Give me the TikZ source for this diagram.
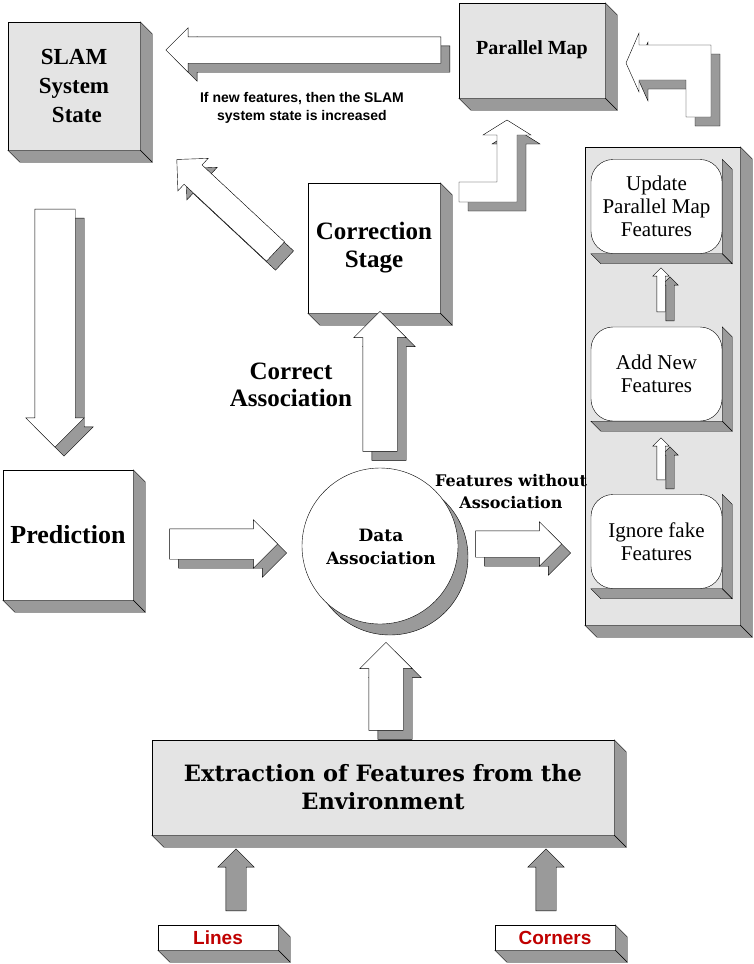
\documentclass[tikz,border=0pt]{standalone}
\usepackage{fontspec}
\setmainfont{Liberation Serif}
\newfontfamily\sansf{Liberation Sans}
\newfontfamily\widef{DejaVu Serif}
\usetikzlibrary{calc,shapes.arrows,shadows}

\definecolor{panelgray}{HTML}{E4E4E4}
\definecolor{sidegray}{HTML}{9A9A9A}
\definecolor{labelred}{HTML}{C00000}

\tikzset{
    front/.style = {draw=black, thin, inner sep=2pt, align=center, font=\bfseries},
    sideface/.style = {draw=black, thin, fill=sidegray},
    blockarrow/.style = {single arrow, draw=black, thin, fill=white, inner xsep=0pt, inner ysep=13pt,
        single arrow head extend=9pt, single arrow head indent=0pt,
        drop shadow={shadow xshift=9pt, shadow yshift=-9pt, fill=sidegray, draw=black, opacity=1}},
    solidarrow/.style = {single arrow, draw=black, thin, fill=sidegray, inner xsep=0pt, inner ysep=10pt,
        single arrow head extend=8pt, single arrow head indent=0pt},
    elbow/.style = {draw=black, thin, fill=white,
        drop shadow={shadow xshift=9pt, shadow yshift=-9pt, fill=sidegray, draw=black, opacity=1}}
}

% extrude the right and bottom faces of a node
\newcommand\extrude[2][12]{
    \filldraw[sideface] (#2.north east) -- ++(#1,#1) -- ($(#2.south east)+(#1,#1)$) -- (#2.south east) -- cycle;
    \filldraw[sideface] (#2.south west) -- (#2.south east) -- ($(#2.south east)+(#1,#1)$) -- ($(#2.south west)+(#1,#1)$) -- cycle;
}

\begin{document}
\begin{tikzpicture}[x=1pt, y=-1pt]
    \useasboundingbox (0,0) rectangle (754,964);

    % boxes
    \node[front, fill=panelgray, minimum width=132, minimum height=128, font=\bfseries\fontsize{23}{29}\selectfont] (slam) at (74,86) {SLAM\\System\\\ State};
    \extrude{slam}
    \node[front, fill=panelgray, minimum width=146, minimum height=95] (pmap) at (532,50.5) {};
    \node[font=\bfseries\fontsize{20}{22}\selectfont] (pmaplbl) at (532,50) {Parallel Map};
    \extrude{pmap}
    \node[front, fill=white, minimum width=132, minimum height=130, font=\bfseries\fontsize{25}{28}\selectfont] (corr) at (374,248) {Correction\\Stage};
    \extrude{corr}
    \node[front, fill=white, minimum width=130, minimum height=130, font=\bfseries\fontsize{26}{28}\selectfont] (pred) at (68,535) {Prediction};
    \extrude{pred}
    \node[front, fill=panelgray, minimum width=462, minimum height=95, font=\widef\bfseries\fontsize{22.5}{28}\selectfont] (extr) at (383,787.5) {Extraction of Features from the\\Environment};
    \extrude{extr}

    % data association
    \fill[sidegray, draw=black, thin] (390,557) circle (78);
    \node[circle, draw=black, thin, fill=white, minimum size=156, inner sep=0pt] (assoc) at (380,546) {};
    \node[align=center, font=\widef\bfseries\fontsize{17}{23}\selectfont] (assoclbl) at (381,547) {Data\\Association};

    % right panel
    \node[front, fill=panelgray, minimum width=155, minimum height=478] (panel) at (662.5,386) {};
    \extrude{panel}
    \foreach \name/\y/\txt in {upd/206.5/{Update\\Parallel Map\\Features}, add/374/{Add New\\Features}, ign/541.5/{Ignore fake\\Features}} {
        \node[draw=black, thin, fill=white, rounded corners=22pt, minimum width=131, minimum height=94,
            align=center, font=\fontsize{21}{23}\selectfont] (\name) at (656.5,\y) {\txt};
        \extrude[10]{\name}
    }

    % small boxes with red labels
    \node[front, fill=white, minimum width=120, minimum height=25, text=labelred, font=\sansf\bfseries\fontsize{19}{20}\selectfont] (lines) at (218,937.5) {Lines};
    \extrude{lines}
    \node[front, fill=white, minimum width=120, minimum height=25, text=labelred, font=\sansf\bfseries\fontsize{19}{20}\selectfont] (corners) at (555,937.5) {Corners};
    \extrude{corners}

    % block arrows
    \node[blockarrow, minimum height=275, rotate=180] (toslam) at (310,50) {};
    \node[blockarrow, minimum height=238, inner ysep=20pt, rotate=-90] (topred) at (55,318) {};
    \node[blockarrow, minimum height=135, rotate=137] (diag) at (231,210) {};
    \node[blockarrow, minimum height=108, inner ysep=15pt] (toassoc) at (216,544) {};
    \node[blockarrow, minimum height=86, inner ysep=13pt] (tofree) at (512,544) {};
    \node[blockarrow, minimum height=140, inner ysep=17pt, rotate=90] (tocorr) at (380,390) {};
    \node[blockarrow, minimum height=88, inner ysep=17pt, rotate=90] (fromextr) at (386,695) {};
    \node[blockarrow, minimum height=44, inner ysep=4pt, single arrow head extend=4pt,
        drop shadow={opacity=0}, rotate=90] (updadd) at (661,292) {};
    \node[blockarrow, minimum height=42, inner ysep=4pt, single arrow head extend=4pt,
        drop shadow={opacity=0}, rotate=90] (addign) at (661,461) {};
    \node[solidarrow, minimum height=62, rotate=90] (fromlines) at (236,885) {};
    \node[solidarrow, minimum height=62, rotate=90] (fromcorners) at (546,885) {};

    % elbow arrows
    \path[elbow] (459,182) -- (497,182) -- (497,135) -- (483,135) -- (507,120) -- (531,135)
        -- (517,135) -- (517,202) -- (459,202) -- cycle;
    \path[elbow] (711,45) -- (711,117) -- (686,117) -- (686,80) -- (639,80) -- (639,92)
        -- (626,63) -- (639,33) -- (639,45) -- cycle;

    % labels
    \node[align=center, font=\sansf\bfseries\fontsize{14}{18}\selectfont] (newfeat) at (302,108) {If new features, then the SLAM\\system state is increased};
    \node[align=center, font=\bfseries\fontsize{25}{27}\selectfont] (correct) at (291,385) {Correct\\Association};
    \node[align=center, font=\widef\bfseries\fontsize{16}{22}\selectfont] (without) at (511,492) {Features without\\Association};
\end{tikzpicture}
\end{document}
